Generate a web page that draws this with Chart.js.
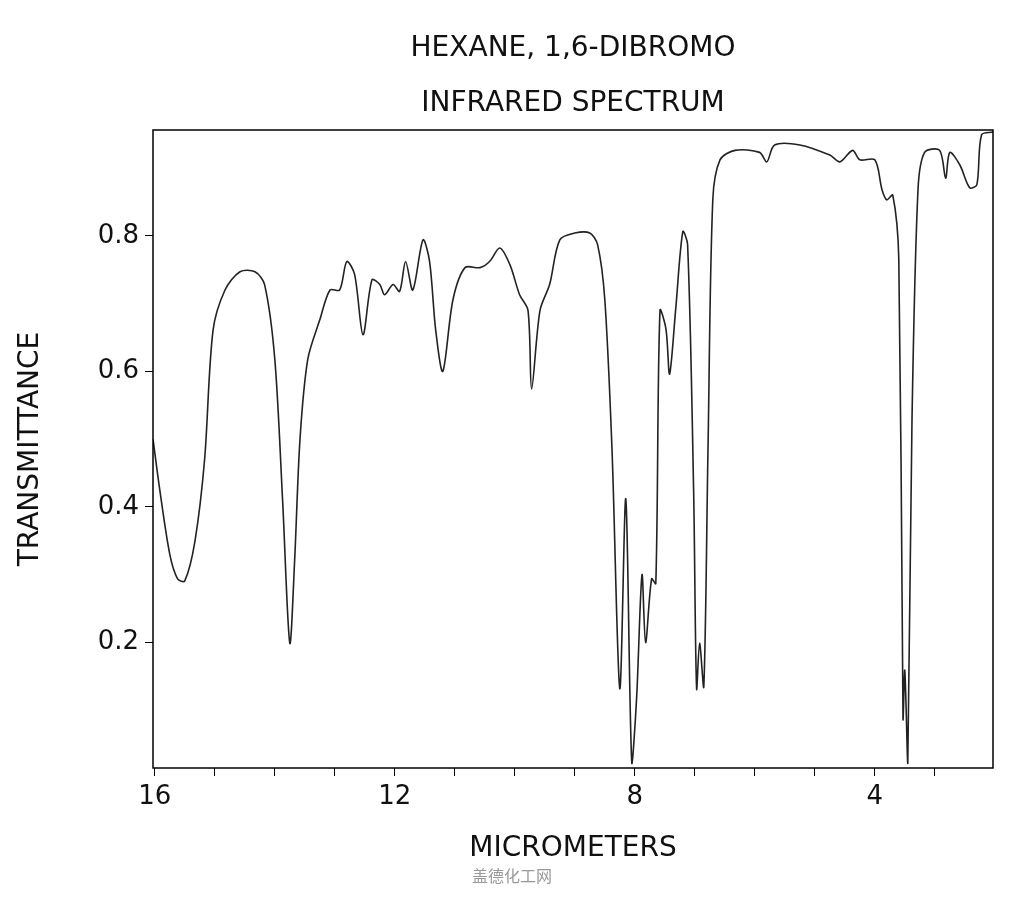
<!DOCTYPE html>
<html><head><meta charset="utf-8">
<script src="https://cdn.jsdelivr.net/npm/chart.js@4/dist/chart.umd.min.js"></script>
<style>html,body{margin:0;background:#fff}</style></head>
<body><div style="width:1024px;height:900px"><canvas id="c"></canvas></div>
<script>
const micrometers = [16.03,15.92,15.75,15.62,15.5,15.33,15.17,15.03,14.83,14.58,14.33,14.17,14.0,13.87,13.75,13.67,13.58,13.45,13.25,13.08,12.92,12.8,12.67,12.53,12.38,12.25,12.17,12.03,11.92,11.82,11.7,11.53,11.42,11.32,11.2,11.03,10.83,10.58,10.42,10.25,10.08,9.92,9.78,9.72,9.58,9.42,9.25,9.0,8.75,8.62,8.5,8.38,8.25,8.15,8.05,7.97,7.88,7.82,7.72,7.65,7.58,7.48,7.42,7.32,7.2,7.12,7.02,6.97,6.92,6.85,6.78,6.7,6.58,6.33,5.92,5.8,5.67,5.25,4.75,4.58,4.37,4.25,4.0,3.88,3.8,3.7,3.6,3.53,3.5,3.45,3.38,3.28,3.17,2.92,2.82,2.75,2.58,2.42,2.3,2.22,2.03];
const transmittance = [0.50,0.427,0.33,0.294,0.291,0.35,0.47,0.66,0.72,0.747,0.747,0.728,0.618,0.41,0.199,0.32,0.50,0.618,0.676,0.72,0.72,0.762,0.743,0.654,0.735,0.728,0.713,0.728,0.718,0.762,0.72,0.794,0.762,0.662,0.6,0.706,0.753,0.753,0.762,0.782,0.757,0.713,0.69,0.574,0.69,0.728,0.794,0.804,0.804,0.787,0.706,0.485,0.132,0.412,0.022,0.118,0.30,0.20,0.294,0.287,0.69,0.662,0.596,0.69,0.806,0.787,0.426,0.132,0.199,0.135,0.485,0.853,0.912,0.926,0.923,0.909,0.934,0.934,0.919,0.909,0.926,0.912,0.912,0.868,0.853,0.86,0.765,0.088,0.159,0.022,0.529,0.868,0.923,0.926,0.885,0.923,0.904,0.871,0.875,0.949,0.953];
const xTickValues = [3,4,5,6,7,8,9,10,11,12,13,14,15,16];
const xTickLabels = {4:"4",8:"8",12:"12",16:"16"};
const yTickValues = [0.2,0.4,0.6,0.8];
const yTickLabels = {0.2:"0.2",0.4:"0.4",0.6:"0.6",0.8:"0.8"};
const titleLines = ["HEXANE, 1,6-DIBROMO","INFRARED SPECTRUM"];
const F = '"DejaVu Sans", sans-serif';
const deco = {id:'deco', afterDraw(ch){
  const c=ch.ctx, a=ch.chartArea;
  c.save(); c.strokeStyle='#000'; c.lineWidth=1.5; c.strokeRect(a.left,a.top,a.right-a.left,a.bottom-a.top);
  c.fillStyle='#111'; c.font='28px '+F; c.textAlign='center';
  c.fillText(titleLines[0],573,56); c.fillText(titleLines[1],573,111);
  c.fillStyle='#999'; c.font='16px "Noto Sans CJK SC"'; c.fillText('盖德化工网',512,882);
  c.restore();
}};
new Chart(document.getElementById('c'),{
  type:'line',
  data:{datasets:[{data:micrometers.map((x,i)=>({x,y:transmittance[i]})),borderColor:'#222',borderWidth:1.6,pointRadius:0,tension:0.3,fill:false}]},
  options:{responsive:true,maintainAspectRatio:false,animation:false,
    layout:{padding:{top:130,right:31,left:0,bottom:30}},
    plugins:{legend:{display:false},tooltip:{enabled:false}},
    scales:{
      x:{type:'linear',reverse:true,min:2.03,max:16.03,
        afterBuildTicks(s){s.ticks=xTickValues.map(v=>({value:v}));},
        afterFit(s){s.height=102;},
        ticks:{autoSkip:false,maxRotation:0,color:'#111',font:{size:26,family:F},padding:6,callback:v=>xTickLabels[v]||''},
        grid:{drawOnChartArea:false,tickLength:8,color:'#000'},border:{display:false},
        title:{display:true,text:'MICROMETERS',color:'#111',font:{size:28,family:F},padding:{top:4}}},
      y:{min:0.015,max:0.956,
        afterBuildTicks(s){s.ticks=yTickValues.map(v=>({value:v}));},
        afterFit(s){s.width=153;},
        ticks:{autoSkip:false,color:'#111',font:{size:26,family:F},padding:6,callback:v=>yTickLabels[Math.round(v*10)/10]||''},
        grid:{drawOnChartArea:false,tickLength:8,color:'#000'},border:{display:false},
        title:{display:true,text:'TRANSMITTANCE',color:'#111',font:{size:28,family:F},padding:{top:14,bottom:24}}}
    }},
  plugins:[deco]
});
</script></body></html>
